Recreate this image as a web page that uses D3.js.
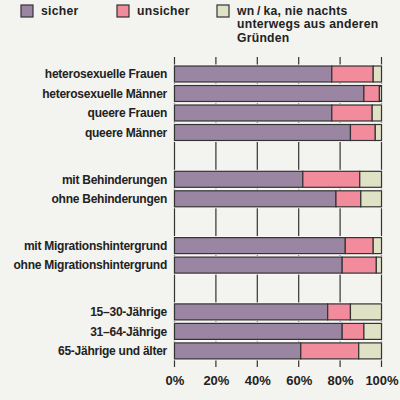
<!DOCTYPE html>
<html>
<head>
<meta charset="utf-8">
<script src="https://cdn.jsdelivr.net/npm/d3@7"></script>
<style>
  body { margin: 0; background: #f3f3ef; }
  svg { display: block; font-family: "Liberation Sans", Arial, sans-serif; font-weight: bold; }
</style>
</head>
<body>
<div id="chart"></div>
<script>
// Data
// ====
var categories = [
  "heterosexuelle Frauen",
  "heterosexuelle Männer",
  "queere Frauen",
  "queere Männer",
  "mit Behinderungen",
  "ohne Behinderungen",
  "mit Migrationshintergrund",
  "ohne Migrationshintergrund",
  "15–30-Jährige",
  "31–64-Jährige",
  "65-Jährige und älter"
];

// which block each row belongs to
var groups = [0, 0, 0, 0, 1, 1, 2, 2, 3, 3, 3];

var sicher   = [76, 91.5, 76, 85, 62, 78, 82.5, 81, 74, 81, 61];
var unsicher = [20, 7.5, 19.5, 12, 27.5, 12, 13.5, 16.5, 11, 10.5, 28];
var andere   = [4, 1, 4.5, 3, 10.5, 10, 4, 2.5, 15, 8.5, 11];

var seriesKeys = ["sicher", "unsicher", "andere"];
var legendLabels = [["sicher"], ["unsicher"], ["wn\u2009/\u2009ka, nie nachts", "unterwegs aus anderen", "Gründen"]];

var tickValues = [0, 20, 40, 60, 80, 100];

// Setup
// =====
var width = 400;
var height = 400;
var colors = { sicher: "#9a86a2", unsicher: "#f28b9c", andere: "#e0e2c6" };
var ink = "#222";

var svg = d3
.select("#chart")
.append("svg")
.attr("width", width)
.attr("height", height);

svg.append("rect")
.attr("width", width)
.attr("height", height)
.attr("fill", "#f3f3ef");

// build rows for the stack
var rows = categories.map(function(c, i) {
  return { name: c, slot: i + groups[i] * 1.4, sicher: sicher[i], unsicher: unsicher[i], andere: andere[i] };
});

var stacked = d3.stack().keys(seriesKeys)(rows);

var xScale = d3.scaleLinear()
.domain([0, 100])
.range([174.5, 381.5]);

// rows sit on a "slot" scale, groups get an extra gap
var yScale = d3.scaleLinear()
.domain([0, 1])
.range([66, 85.5]);

var barHeight = 16;
var gridTop = 57;
var gridBottom = 367;

// Gridlines
// =========
svg.append("g")
.attr("class", "grid")
.selectAll("line")
.data(tickValues)
.enter()
.append("line")
.attr("x1", function(d) { return xScale(d); })
.attr("x2", function(d) { return xScale(d); })
.attr("y1", gridTop)
.attr("y2", gridBottom)
.attr("stroke", "#333")
.attr("stroke-width", 1.2);

// Bars
// ====
// white backing so the gridlines are hidden behind each bar row
svg.append("g")
.selectAll("rect")
.data(rows)
.enter()
.append("rect")
.attr("x", xScale(0) - 1)
.attr("y", function(d) { return yScale(d.slot) - 1.5; })
.attr("width", xScale(100) - xScale(0) + 2)
.attr("height", barHeight + 3)
.attr("fill", "#fbfbf8");

svg.append("g")
.selectAll("g")
.data(stacked)
.enter()
.append("g")
.attr("fill", function(d) { return colors[d.key]; })
.selectAll("rect")
.data(function(d) { return d; })
.enter()
.append("rect")
.attr("x", function(d) { return xScale(d[0]); })
.attr("y", function(d) { return yScale(d.data.slot); })
.attr("width", function(d) { return xScale(d[1]) - xScale(d[0]); })
.attr("height", barHeight)
.attr("stroke", "#333")
.attr("stroke-width", 1.2);

// Category labels
// ===============
svg.append("g")
.selectAll("text")
.data(rows)
.enter()
.append("text")
.attr("x", 167)
.attr("y", function(d) { return yScale(d.slot) + barHeight / 2 + 4.3; })
.attr("text-anchor", "end")
.attr("font-size", 12)
.attr("letter-spacing", -0.25)
.attr("fill", ink)
.text(function(d) { return d.name; });

// Bottom axis labels
// ==================
var xAxis = d3.axisBottom(xScale)
.tickValues(tickValues)
.tickSize(0)
.tickPadding(0)
.tickFormat(function(d) { return d + "%"; });

var axisG = svg.append("g")
.attr("transform", "translate(0," + 376 + ")")
.call(xAxis);

axisG.select(".domain").remove();
axisG.selectAll("text")
.attr("font-family", "Liberation Sans, Arial, sans-serif")
.attr("font-weight", "bold")
.attr("font-size", 13)
.attr("fill", ink)
.attr("dy", "0.71em");

// Legend
// ======
var legendX = [21, 117, 217];

var legend = svg.append("g")
.selectAll("g")
.data(seriesKeys)
.enter()
.append("g")
.attr("transform", function(d, i) { return "translate(" + legendX[i] + ",5)"; });

legend.append("rect")
.attr("width", 12)
.attr("height", 12)
.attr("fill", function(d) { return colors[d]; })
.attr("stroke", "#333")
.attr("stroke-width", 1.2);

legend.append("text")
.attr("x", 20)
.attr("y", 9.5)
.attr("font-size", 12.2)
.attr("letter-spacing", 0.25)
.attr("fill", ink)
.selectAll("tspan")
.data(function(d, i) { return legendLabels[i]; })
.enter()
.append("tspan")
.attr("x", 20)
.attr("dy", function(d, i) { return i === 0 ? 0 : 13.8; })
.text(function(d) { return d; });
</script>
</body>
</html>
